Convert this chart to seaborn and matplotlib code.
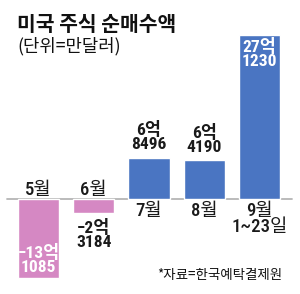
import matplotlib
matplotlib.use("Agg")
import matplotlib.pyplot as plt
import seaborn as sns
import pandas as pd

months = ["5월", "6월", "7월", "8월", "9월\n1~23일"]
values = [-13.1085, -2.3184, 6.8496, 6.4190, 27.1230]
value_labels = ["−13억\n1085", "−2억\n3184", "6억\n8496", "6억\n4190", "27억\n1230"]
label_inside = [True, False, False, False, True]
title = "미국 주식 순매수액"
subtitle = "(단위=만달러)"
source = "*자료=한국예탁결제원"

PINK = "#d588c3"
BLUE = "#4a75c2"

sns.set_theme(style="white")
plt.rcParams["font.family"] = ["Noto Sans CJK KR", "DejaVu Sans"]
COND = ["Roboto Condensed", "Noto Sans CJK KR", "DejaVu Sans"]

df = pd.DataFrame({"month": months, "value": values,
                   "sign": ["neg" if v < 0 else "pos" for v in values]})

DPI = 100
fig = plt.figure(figsize=(3.0, 2.94), dpi=DPI)
ax = fig.add_axes([0, 0, 1, 1])
sns.barplot(data=df, x="month", y="value", hue="sign",
            palette={"neg": PINK, "pos": BLUE}, dodge=False,
            width=0.745, legend=False, ax=ax, saturation=1)
ax.set_xlim(-0.697, 4.733)
ax.set_ylim(-15.7, 32.9)
ax.axis("off")
ax.axhline(0, xmin=7/300, xmax=292/300, color="#b5b5b5", lw=1.3, zorder=0.5)

def px(p):
    return p * 72 / DPI

for i, (v, lab, inside, m) in enumerate(zip(values, value_labels, label_inside, months)):
    up = v >= 0
    if inside:
        dy = -19 if up else 19
        col = "white"
    else:
        dy = 21 if up else -21
        col = "#1a1a1a"
    ax.annotate(lab, (i, v), xytext=(0, px(dy)), textcoords="offset points",
                ha="center", va="center", fontsize=12.5, fontweight="bold",
                color=col, linespacing=0.92, family=COND)
    if up:
        ax.annotate(m, (i, 0), xytext=(0, px(-3)), textcoords="offset points",
                    ha="center", va="top", fontsize=13.5, fontweight=500,
                    color="#1a1a1a", linespacing=0.88, family=COND)
    else:
        ax.annotate(m, (i, 0), xytext=(0, px(4)), textcoords="offset points",
                    ha="center", va="baseline", fontsize=13.5, fontweight=500,
                    color="#1a1a1a", family=COND)

fig.text(17/300, 1 - 31/294, title, fontsize=14.7, fontweight="bold",
         ha="left", va="baseline", color="#111111")
fig.text(17/300, 1 - 51/294, subtitle, fontsize=12.8, ha="left", va="baseline",
         color="#111111")
fig.text(282/300, 1 - 279/294, source, fontsize=9.7, ha="right", va="baseline",
         color="#111111")

fig.savefig("out.png", dpi=DPI)
